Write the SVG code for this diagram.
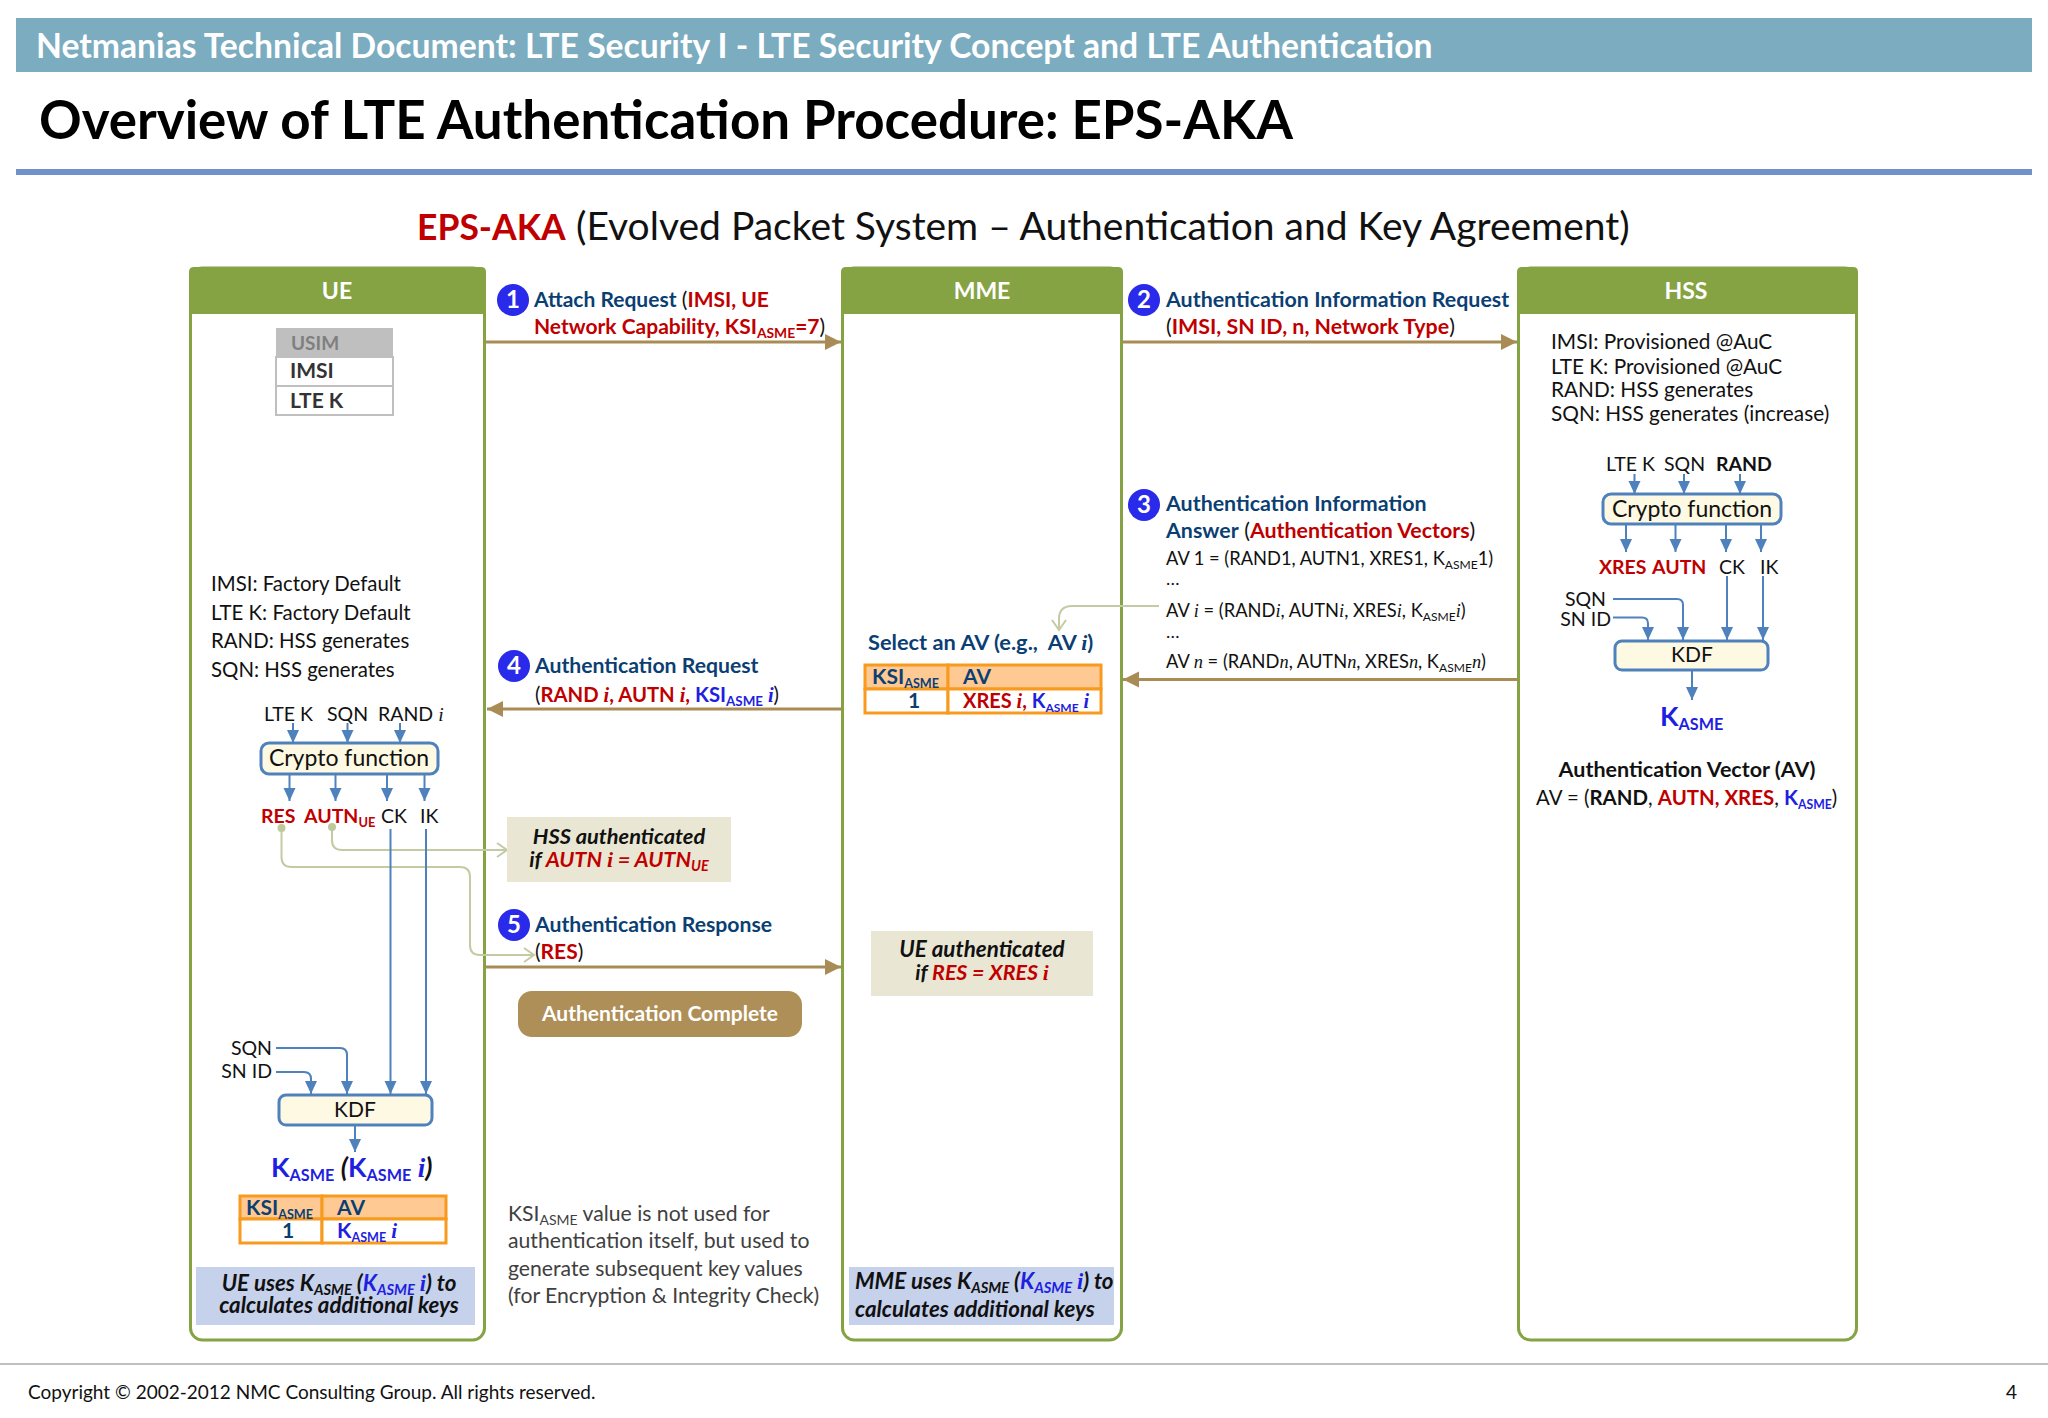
<svg xmlns="http://www.w3.org/2000/svg" width="2048" height="1418" viewBox="0 0 2048 1418">
<style>
text{font-family:Lato,"Open Sans","Noto Sans",sans-serif;font-size:21px;fill:#111}
.b{font-weight:700}.it{font-style:italic}
.m{text-anchor:middle}.e{text-anchor:end}
.navy{fill:#0B3F73;font-weight:700}.red{fill:#C00000;font-weight:700}.blue{fill:#1F1FE0;font-weight:700}
.s{font-size:.66em;baseline-shift:-4px}
.s2{font-size:.6em;baseline-shift:-4px}
.ii{font-family:"Liberation Serif",serif;font-style:italic}
.big{font-size:21.400px}
.head{font-size:23px;font-weight:700;fill:#fff}
.av{font-size:18.300px}
.hss{font-size:20.800px}
.lab{font-size:19.500px}
.ue{font-size:20.400px}
.ksi{font-size:21.200px;fill:#404040}
.chk{font-size:21.800px}
.use-t{font-size:22.300px}
.panel{fill:#fff;stroke:#86A344;stroke-width:3}
.phead{fill:#86A344}
.fn{fill:#FEF9E3;stroke:#4F81BD;stroke-width:3}
.bl{fill:none;stroke:#4F81BD;stroke-width:2}
.bw{fill:none;stroke:#A88B55;stroke-width:3}
.gr{fill:none;stroke:#C3CBA3;stroke-width:2}
.num{fill:#2A2AEA}.numt{fill:#fff;font-weight:700;font-size:24px;text-anchor:middle}
.tb{fill:#fff;stroke:#F79A1E;stroke-width:3}.th{fill:#FFC993;stroke:#F79A1E;stroke-width:3}
.note{fill:#E9E7D3}.use{fill:#C6D1EC}
</style>
<defs>
<marker id="ab" markerUnits="userSpaceOnUse" markerWidth="14" markerHeight="14" refX="13" refY="7" orient="auto"><path d="M0,1L13,7L0,13Z" fill="#4F81BD"/></marker>
<marker id="aw" markerUnits="userSpaceOnUse" markerWidth="18" markerHeight="18" refX="16" refY="9" orient="auto"><path d="M0,1L16,9L0,17Z" fill="#A88B55"/></marker>
<marker id="ag" markerUnits="userSpaceOnUse" markerWidth="14" markerHeight="16" refX="12" refY="8" orient="auto"><path d="M2,1L12,8L2,15" fill="none" stroke="#C3CBA3" stroke-width="2"/></marker>
</defs>
<rect width="2048" height="1418" fill="#fff"/>
<g id="page-header">
<rect x="16" y="18" width="2016" height="54" fill="#7BACBF"/>
<text x="36" y="58" style="font-size:33.700px;font-weight:700;fill:#fff">Netmanias Technical Document: LTE Security I - LTE Security Concept and LTE Authentication</text>
<text x="39" y="139" style="font-size:52.900px;font-weight:700;fill:#000">Overview of LTE Authentication Procedure: EPS-AKA</text>
<rect x="16" y="169" width="2016" height="6" fill="#7092CC"/>
<text x="417" y="240" class="red" style="font-size:35.500px">EPS-AKA</text>
<text x="576" y="240" style="font-size:39px">(Evolved Packet System – Authentication and Key Agreement)</text>
</g>
<g id="UE">
<rect class="panel" x="190.500" y="268" width="294" height="1072" rx="12"/>
<path class="phead" d="M189,314V272q0-5 5-5H481q5,0 5,5V314Z"/>
<text class="head m" x="337" y="299">UE</text>
<g id="usim">
<rect x="276" y="328" width="117" height="29" fill="#BFBFBF"/>
<rect x="276" y="357" width="117" height="29" fill="#fff" stroke="#BFBFBF" stroke-width="2"/>
<rect x="276" y="386" width="117" height="29" fill="#fff" stroke="#BFBFBF" stroke-width="2"/>
<text x="291" y="350" class="b" style="fill:#7F7F7F;font-size:19px">USIM</text>
<text x="290" y="378" class="b" style="fill:#333">IMSI</text>
<text x="290" y="408" class="b" style="fill:#333">LTE K</text>
</g>
<text class="ue" x="211" y="591">IMSI: Factory Default</text>
<text class="ue" x="211" y="620">LTE K: Factory Default</text>
<text class="ue" x="211" y="648">RAND: HSS generates</text>
<text class="ue" x="211" y="677">SQN: HSS generates</text>
<text class="lab" x="264" y="721">LTE K</text><text class="lab" x="327" y="721">SQN</text><text class="lab" x="378" y="721">RAND <tspan class="ii">i</tspan></text>
<g id="ue-crypto"><rect class="fn" x="261" y="743" width="177" height="31" rx="8"/><text class="m" x="349" y="766" style="font-size:23px">Crypto function</text></g>
<text x="261" y="823" class="red lab">RES</text><text x="304" y="823" class="red lab">AUTN<tspan class="s">UE</tspan></text><text class="lab" x="381" y="823">CK</text><text class="lab" x="420" y="823">IK</text>
<text class="e lab" x="272" y="1055">SQN</text><text class="e lab" x="272" y="1078">SN ID</text>
<g id="ue-kdf"><rect class="fn" x="279" y="1095" width="153" height="30" rx="7"/><text class="m" x="355" y="1117">KDF</text></g>
<text x="271" y="1177" style="font-size:27px" class="blue">K<tspan class="s2">ASME</tspan> <tspan class="it" style="fill:#111">(</tspan>K<tspan class="s2">ASME</tspan> <tspan class="ii">i</tspan><tspan class="it" style="fill:#111">)</tspan></text>
<g id="ue-table">
<rect class="th" x="240" y="1196" width="82" height="23"/><rect class="th" x="322" y="1196" width="124" height="23"/>
<rect class="tb" x="240" y="1219" width="82" height="24"/><rect class="tb" x="322" y="1219" width="124" height="24"/>
<text x="246" y="1215" class="navy">KSI<tspan class="s2">ASME</tspan></text><text x="337" y="1215" class="navy">AV</text>
<text x="288" y="1238" class="navy m">1</text><text x="337" y="1238" class="blue">K<tspan class="s2">ASME</tspan> <tspan class="ii">i</tspan></text>
</g>
<g id="ue-use">
<rect class="use" x="196" y="1267" width="279" height="58"/>
<text class="b it m use-t" x="339" y="1291">UE uses K<tspan class="s">ASME</tspan> (<tspan class="blue">K<tspan class="s">ASME</tspan> <tspan class="ii">i</tspan></tspan>) to</text>
<text class="b it m use-t" x="339" y="1313">calculates additional keys</text>
</g>
</g>
<g id="MME">
<rect class="panel" x="842.500" y="268" width="279" height="1072" rx="12"/>
<path class="phead" d="M841,314V272q0-5 5-5H1118q5,0 5,5V314Z"/>
<text class="head m" x="982" y="299">MME</text>
<text x="868" y="650" class="navy" style="font-size:21.800px">Select an AV (e.g.,&#160; AV <tspan class="ii">i</tspan>)</text>
<g id="mme-table">
<rect class="th" x="865" y="665" width="83" height="24"/><rect class="th" x="948" y="665" width="153" height="24"/>
<rect class="tb" x="865" y="689" width="83" height="24"/><rect class="tb" x="948" y="689" width="153" height="24"/>
<text x="872" y="684" class="navy">KSI<tspan class="s2">ASME</tspan></text><text x="963" y="684" class="navy">AV</text>
<text x="914" y="708" class="navy m">1</text><text x="963" y="708" style="font-size:20px"><tspan class="red">XRES <tspan class="ii">i</tspan>, </tspan><tspan class="blue">K<tspan class="s2">ASME</tspan> <tspan class="ii">i</tspan></tspan></text>
</g>
<g id="mme-check">
<rect class="note" x="871" y="931" width="222" height="65"/>
<text class="b it m" style="font-size:22.400px" x="982" y="957">UE authenticated</text>
<text class="b it m" style="font-size:21.400px" x="982" y="980">if <tspan class="red">RES = XRES <tspan class="ii">i</tspan></tspan></text>
</g>
<g id="mme-use">
<rect class="use" x="849" y="1267" width="265" height="58"/>
<text class="b it use-t" x="855" y="1289">MME uses K<tspan class="s">ASME</tspan> (<tspan class="blue">K<tspan class="s">ASME</tspan> <tspan class="ii">i</tspan></tspan>) to</text>
<text class="b it use-t" x="855" y="1317">calculates additional keys</text>
</g>
</g>
<g id="HSS">
<rect class="panel" x="1518.500" y="268" width="338" height="1072" rx="12"/>
<path class="phead" d="M1517,314V272q0-5 5-5H1853q5,0 5,5V314Z"/>
<text class="head m" x="1686" y="299">HSS</text>
<text class="hss" x="1551" y="349">IMSI: Provisioned @AuC</text>
<text class="hss" x="1551" y="374">LTE K: Provisioned @AuC</text>
<text class="hss" x="1551" y="397">RAND: HSS generates</text>
<text class="hss" x="1551" y="421">SQN: HSS generates (increase)</text>
<text class="lab" x="1606" y="471">LTE K</text><text class="lab" x="1664" y="471">SQN</text><text class="lab b" x="1716" y="471">RAND</text>
<g id="hss-crypto"><rect class="fn" x="1603" y="494" width="178" height="30" rx="8"/><text class="m" x="1692" y="517" style="font-size:23px">Crypto function</text></g>
<text x="1599" y="574" class="red lab">XRES</text><text x="1652" y="574" class="red lab">AUTN</text><text class="lab" x="1719" y="574">CK</text><text class="lab" x="1760" y="574">IK</text>
<text class="e lab" x="1606" y="606">SQN</text><text class="e lab" x="1611" y="626">SN ID</text>
<g id="hss-kdf"><rect class="fn" x="1615" y="641" width="153" height="29" rx="7"/><text class="m" x="1692" y="662">KDF</text></g>
<text x="1660" y="726" class="blue" style="font-size:27px">K<tspan class="s2">ASME</tspan></text>
<text class="b m" style="font-size:21.500px" x="1687" y="777">Authentication Vector (AV)</text>
<text x="1536" y="805" style="font-size:20.400px">AV = (<tspan class="b">RAND</tspan>, <tspan class="red">AUTN, XRES</tspan>, <tspan class="blue">K<tspan class="s2">ASME</tspan></tspan>)</text>
</g>
<g id="connectors">
<path class="bw" d="M486,342H841" marker-end="url(#aw)"/>
<path class="bw" d="M1123,342H1517" marker-end="url(#aw)"/>
<path class="bw" d="M1518,679.500H1123" marker-end="url(#aw)"/>
<path class="bw" d="M842,709H487" marker-end="url(#aw)"/>
<path class="bw" d="M486,967H841" marker-end="url(#aw)"/>
<path class="gr" d="M1159,606H1072q-13,0-13,13V630" marker-end="url(#ag)"/>
<path class="gr" d="M332,828V840q0,10 10,10H507" marker-end="url(#ag)"/>
<path class="gr" d="M281.500,828V857q0,10 10,10H460q10,0 10,10V945q0,10 10,10H534" marker-end="url(#ag)"/>
<circle cx="281.500" cy="828" r="4" fill="#BFC89A"/><circle cx="332" cy="827" r="4" fill="#BFC89A"/>
<path class="bl" d="M293,723V743" marker-end="url(#ab)"/><path class="bl" d="M347.500,723V743" marker-end="url(#ab)"/><path class="bl" d="M400,723V743" marker-end="url(#ab)"/>
<path class="bl" d="M289.500,775V801" marker-end="url(#ab)"/><path class="bl" d="M335.500,775V801" marker-end="url(#ab)"/><path class="bl" d="M387,775V801" marker-end="url(#ab)"/><path class="bl" d="M424.500,775V801" marker-end="url(#ab)"/>
<path class="bl" d="M390.500,829V1094" marker-end="url(#ab)"/><path class="bl" d="M426,829V1094" marker-end="url(#ab)"/>
<path class="bl" d="M276,1048H340q7,0 7,7V1094" marker-end="url(#ab)"/><path class="bl" d="M276,1072H304q7,0 7,7V1094" marker-end="url(#ab)"/>
<path class="bl" d="M355,1126V1152" marker-end="url(#ab)"/>
<path class="bl" d="M1634.500,474V494" marker-end="url(#ab)"/><path class="bl" d="M1684,474V494" marker-end="url(#ab)"/><path class="bl" d="M1740,474V494" marker-end="url(#ab)"/>
<path class="bl" d="M1626,525V552" marker-end="url(#ab)"/><path class="bl" d="M1675.500,525V552" marker-end="url(#ab)"/><path class="bl" d="M1726,525V552" marker-end="url(#ab)"/><path class="bl" d="M1761,525V552" marker-end="url(#ab)"/>
<path class="bl" d="M1727,576V640" marker-end="url(#ab)"/><path class="bl" d="M1763,576V640" marker-end="url(#ab)"/>
<path class="bl" d="M1613,599H1677q6,0 6,6V640" marker-end="url(#ab)"/><path class="bl" d="M1613,617.500H1642q6,0 6,6V640" marker-end="url(#ab)"/>
<path class="bl" d="M1692,671V700" marker-end="url(#ab)"/>
</g>
<g id="msg1"><circle class="num" cx="513" cy="300" r="16"/><text class="numt" x="513" y="308">1</text>
<text x="534" y="307"><tspan class="navy">Attach Request</tspan> (<tspan class="red">IMSI, UE</tspan></text>
<text x="534" y="334"><tspan class="red">Network Capability, KSI<tspan class="s">ASME</tspan>=7</tspan>)</text></g>
<g id="msg2"><circle class="num" cx="1144" cy="300" r="16"/><text class="numt" x="1144" y="308">2</text>
<text x="1166" y="307" class="navy big">Authentication Information Request</text>
<text x="1166" y="334" class="big">(<tspan class="red">IMSI, SN ID, n, Network Type</tspan>)</text></g>
<g id="msg3"><circle class="num" cx="1144" cy="505" r="16"/><text class="numt" x="1144" y="513">3</text>
<text x="1166" y="511" class="navy big">Authentication Information</text>
<text x="1166" y="538" class="big"><tspan class="navy">Answer</tspan> (<tspan class="red">Authentication Vectors</tspan>)</text>
<text class="av" x="1166" y="565">AV 1 = (RAND1, AUTN1, XRES1, K<tspan class="s">ASME</tspan>1)</text>
<text class="av" x="1166" y="585" style="font-size:18px;letter-spacing:2px">…</text>
<text class="av" x="1166" y="617">AV <tspan class="ii">i</tspan> = (RAND<tspan class="ii">i</tspan>, AUTN<tspan class="ii">i</tspan>, XRES<tspan class="ii">i</tspan>, K<tspan class="s">ASME</tspan><tspan class="ii">i</tspan>)</text>
<text class="av" x="1166" y="638" style="font-size:18px;letter-spacing:2px">…</text>
<text class="av" x="1166" y="668">AV <tspan class="ii">n</tspan> = (RAND<tspan class="ii">n</tspan>, AUTN<tspan class="ii">n</tspan>, XRES<tspan class="ii">n</tspan>, K<tspan class="s">ASME</tspan><tspan class="ii">n</tspan>)</text></g>
<g id="msg4"><circle class="num" cx="514" cy="666" r="16"/><text class="numt" x="514" y="674">4</text>
<text x="535" y="673" class="navy" style="font-size:21.200px">Authentication Request</text>
<text x="535" y="702" style="font-size:20.300px">(<tspan class="red">RAND <tspan class="ii">i</tspan>, AUTN <tspan class="ii">i</tspan>, </tspan><tspan class="blue">KSI<tspan class="s">ASME</tspan> <tspan class="ii">i</tspan></tspan>)</text></g>
<g id="msg5"><circle class="num" cx="514" cy="925" r="16"/><text class="numt" x="514" y="933">5</text>
<text x="535" y="932" class="navy" style="font-size:21.200px">Authentication Response</text>
<text x="535" y="959">(<tspan class="red">RES</tspan>)</text></g>
<g id="hss-check"><rect class="note" x="507" y="817" width="224" height="65"/>
<text class="b it m chk" x="619" y="844">HSS authenticated</text>
<text class="b it m chk" x="619" y="867">if <tspan class="red">AUTN <tspan class="ii">i</tspan> = AUTN<tspan class="s">UE</tspan></tspan></text></g>
<g id="auth-complete"><rect x="518" y="991" width="284" height="46" rx="14" fill="#AF8F58"/><text class="m b" x="660" y="1021" style="fill:#fff">Authentication Complete</text></g>
<g id="ksi-note">
<text x="508" y="1221" class="ksi">KSI<tspan class="s">ASME</tspan> value is not used for</text>
<text x="508" y="1248" class="ksi">authentication itself, but used to</text>
<text x="508" y="1276" class="ksi">generate subsequent key values</text>
<text x="508" y="1303" class="ksi">(for Encryption &amp; Integrity Check)</text></g>
<g id="footer"><rect x="0" y="1363" width="2048" height="2" fill="#BFBFBF"/>
<text x="28" y="1399" style="font-size:19px">Copyright © 2002-2012 NMC Consulting Group. All rights reserved.</text>
<text x="2006" y="1399" style="font-size:19px">4</text></g>
</svg>
